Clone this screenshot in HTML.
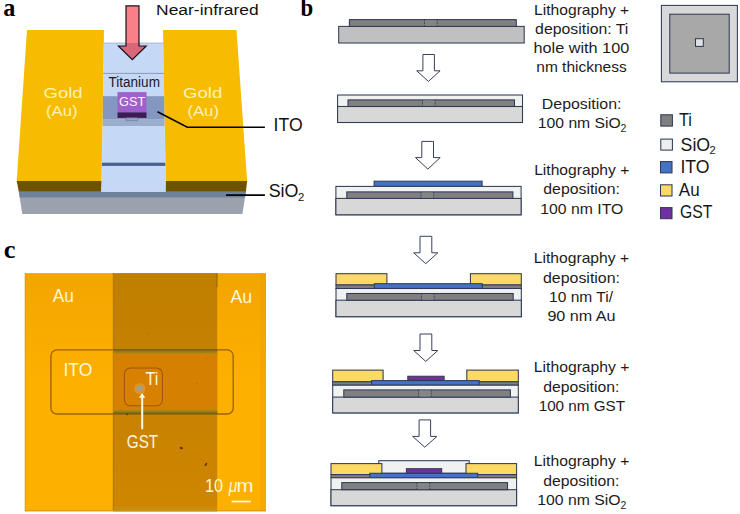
<!DOCTYPE html>
<html><head><meta charset="utf-8">
<style>
html,body{margin:0;padding:0;background:#fff;}
body{width:740px;height:514px;overflow:hidden;position:relative;}
svg{position:absolute;left:0;top:0;}
text{font-family:"Liberation Sans",sans-serif;}
.lbl{font-family:"Liberation Serif",serif;font-weight:bold;}
</style></head>
<body>
<svg width="740" height="514" viewBox="0 0 740 514">
<text x="3.30" y="16" font-size="26.00" fill="#000" textLength="12.10" lengthAdjust="spacingAndGlyphs" class="lbl">a</text>
<text x="300.60" y="16" font-size="26.00" fill="#000" textLength="12.70" lengthAdjust="spacingAndGlyphs" class="lbl">b</text>
<text x="3.70" y="258" font-size="26.00" fill="#000" textLength="11.70" lengthAdjust="spacingAndGlyphs" class="lbl">c</text>
<polygon points="18.8,191.7 245.9,191.7 242.4,213.9 22.3,213.9" fill="#9aa2ae"/>
<polygon points="18.8,191.7 245.9,191.7 245,197.5 19.8,197.5" fill="#6e829e"/>
<polygon points="103.9,43.1 163.3,43.1 165.8,191.8 101.5,191.8" fill="#c5d8f6"/>
<rect x="103" y="42.6" width="61" height="1" fill="#a8b8d0"/>
<rect x="103" y="72.9" width="61" height="1" fill="#8a9ab8"/>
<rect x="102.5" y="96.2" width="62" height="23.3" fill="#8298c0"/>
<rect x="102.5" y="119.5" width="62" height="6.5" fill="#9aaecb"/>
<rect x="102" y="162.7" width="63.5" height="3.2" fill="#4a6090"/>
<polygon points="27,30 104,30 101.5,181 16.7,181" fill="#f7bb00"/>
<polygon points="16.7,181 101.5,181 101.1,191.7 18.8,191.7" fill="#6d5200"/>
<polygon points="163,30 236.5,30 247.1,181 165.8,181" fill="#f7bb00"/>
<polygon points="165.8,181 247.1,181 245.9,191.7 165.8,191.7" fill="#6d5200"/>
<rect x="117.5" y="92.1" width="29" height="20.3" fill="#a060cc"/>
<rect x="117.5" y="112.4" width="29" height="5.5" fill="#3e1a56"/>
<rect x="126.3" y="117.9" width="11.2" height="2.9" fill="#98a8c4" stroke="#6a7a9a" stroke-width="0.7"/>
<text x="119.10" y="106" font-size="12.94" fill="#fff4ff" textLength="26.10" lengthAdjust="spacingAndGlyphs">GST</text>
<text x="108.50" y="87" font-size="14.53" fill="#1a1a28" textLength="51.41" lengthAdjust="spacingAndGlyphs">Titanium</text>
<text x="43.50" y="98" font-size="15.55" fill="#fff2b8" textLength="39.11" lengthAdjust="spacingAndGlyphs">Gold</text>
<text x="46.00" y="116" font-size="14.83" fill="#fff2b8" textLength="31.60" lengthAdjust="spacingAndGlyphs">(Au)</text>
<text x="183.00" y="98" font-size="15.55" fill="#fff2b8" textLength="39.31" lengthAdjust="spacingAndGlyphs">Gold</text>
<text x="187.40" y="116" font-size="14.83" fill="#fff2b8" textLength="31.60" lengthAdjust="spacingAndGlyphs">(Au)</text>
<defs><clipPath id="cTop"><rect x="0" y="0" width="300" height="43.1"/></clipPath><clipPath id="cBot"><rect x="0" y="43.1" width="300" height="30"/></clipPath></defs>
<polygon clip-path="url(#cTop)" points="126,5.9 139,5.9 139,46 146.2,46 132.3,59.7 118.4,46 126,46" fill="#f98088"/>
<polygon clip-path="url(#cBot)" points="126,5.9 139,5.9 139,46 146.2,46 132.3,59.7 118.4,46 126,46" fill="#d86878"/>
<polygon points="126,5.9 139,5.9 139,46 146.2,46 132.3,59.7 118.4,46 126,46" fill="none" stroke="#1a1016" stroke-width="1.2"/>
<text x="156.10" y="15" font-size="15.26" fill="#111" textLength="102.60" lengthAdjust="spacingAndGlyphs">Near-infrared</text>
<polyline points="157.5,111.8 187.3,127.3 264.9,127.3" fill="none" stroke="#000" stroke-width="1.6"/>
<line x1="226" y1="195.1" x2="264.9" y2="195.1" stroke="#000" stroke-width="1.6"/>
<text x="273.60" y="131" font-size="18.60" fill="#111" textLength="29.01" lengthAdjust="spacingAndGlyphs">ITO</text>
<text x="268.70" y="197" font-size="18.90" fill="#111" textLength="29.80" lengthAdjust="spacingAndGlyphs">SiO</text>
<text x="297.90" y="201" font-size="11.19" fill="#111" textLength="6.30" lengthAdjust="spacingAndGlyphs">2</text>
<rect x="338.70" y="26.40" width="185.50" height="16.60" fill="#c0c0c2" stroke="#2f3b55" stroke-width="1.05"/>
<rect x="349.40" y="19.60" width="166.90" height="6.80" fill="#808080" stroke="#2f3b55" stroke-width="1.05"/>
<rect x="424.50" y="20.15" width="12.70" height="5.70" fill="#858585"/><line x1="424.50" y1="19.60" x2="424.50" y2="26.40" stroke="#2e3c55" stroke-width="0.9" stroke-dasharray="1.6,1.1"/><line x1="437.20" y1="19.60" x2="437.20" y2="26.40" stroke="#2e3c55" stroke-width="0.9" stroke-dasharray="1.6,1.1"/>
<polygon points="422.90,54.50 434.40,54.50 434.40,70.80 440.10,70.80 428.40,81.40 416.70,70.80 422.90,70.80" fill="#fff" stroke="#36405a" stroke-width="1"/>
<rect x="337.60" y="95.00" width="184.90" height="27.50" fill="#f0f1f1" stroke="#2f3b55" stroke-width="1.05"/>
<rect x="337.60" y="106.50" width="184.90" height="16.00" fill="#d8d8d8" stroke="#2f3b55" stroke-width="1.05"/>
<rect x="348.00" y="99.90" width="166.50" height="6.60" fill="#808080" stroke="#2f3b55" stroke-width="1.05"/>
<rect x="422.50" y="100.45" width="12.70" height="5.50" fill="#858585"/><line x1="422.50" y1="99.90" x2="422.50" y2="106.50" stroke="#2e3c55" stroke-width="0.9" stroke-dasharray="1.6,1.1"/><line x1="435.20" y1="99.90" x2="435.20" y2="106.50" stroke="#2e3c55" stroke-width="0.9" stroke-dasharray="1.6,1.1"/>
<polygon points="421.80,141.40 433.50,141.40 433.50,157.60 440.20,157.60 427.85,169.10 415.50,157.60 421.80,157.60" fill="#fff" stroke="#36405a" stroke-width="1"/>
<rect x="374.10" y="181.20" width="108.00" height="5.20" fill="#4472c4" stroke="#2f3b55" stroke-width="1.05"/>
<rect x="335.90" y="186.40" width="185.20" height="28.40" fill="#f0f1f1" stroke="#2f3b55" stroke-width="1.05"/>
<rect x="335.90" y="198.40" width="185.20" height="16.40" fill="#d8d8d8" stroke="#2f3b55" stroke-width="1.05"/>
<rect x="346.80" y="191.90" width="166.10" height="6.50" fill="#808080" stroke="#2f3b55" stroke-width="1.05"/>
<rect x="421.00" y="192.45" width="12.70" height="5.40" fill="#858585"/><line x1="421.00" y1="191.90" x2="421.00" y2="198.40" stroke="#2e3c55" stroke-width="0.9" stroke-dasharray="1.6,1.1"/><line x1="433.70" y1="191.90" x2="433.70" y2="198.40" stroke="#2e3c55" stroke-width="0.9" stroke-dasharray="1.6,1.1"/>
<polygon points="420.00,236.30 431.80,236.30 431.80,252.80 437.80,252.80 425.75,263.70 413.70,252.80 420.00,252.80" fill="#fff" stroke="#36405a" stroke-width="1"/>
<rect x="336.00" y="273.70" width="50.90" height="11.30" fill="#fed966" stroke="#2f3b55" stroke-width="1.05"/>
<rect x="470.40" y="273.70" width="50.90" height="11.30" fill="#fed966" stroke="#2f3b55" stroke-width="1.05"/>
<rect x="336.00" y="285.00" width="185.30" height="3.50" fill="#808080" stroke="#2f3b55" stroke-width="1.05"/>
<rect x="374.30" y="283.70" width="108.00" height="4.80" fill="#4472c4" stroke="#2f3b55" stroke-width="1.05"/>
<rect x="336.00" y="288.50" width="185.30" height="28.20" fill="#f0f1f1" stroke="#2f3b55" stroke-width="1.05"/>
<rect x="336.00" y="300.20" width="185.30" height="16.50" fill="#d8d8d8" stroke="#2f3b55" stroke-width="1.05"/>
<rect x="346.80" y="293.50" width="166.40" height="6.70" fill="#808080" stroke="#2f3b55" stroke-width="1.05"/>
<rect x="421.50" y="294.05" width="12.70" height="5.60" fill="#858585"/><line x1="421.50" y1="293.50" x2="421.50" y2="300.20" stroke="#2e3c55" stroke-width="0.9" stroke-dasharray="1.6,1.1"/><line x1="434.20" y1="293.50" x2="434.20" y2="300.20" stroke="#2e3c55" stroke-width="0.9" stroke-dasharray="1.6,1.1"/>
<polygon points="420.00,334.00 431.80,334.00 431.80,350.50 437.80,350.50 425.75,361.40 413.70,350.50 420.00,350.50" fill="#fff" stroke="#36405a" stroke-width="1"/>
<rect x="332.70" y="370.10" width="50.40" height="11.70" fill="#fed966" stroke="#2f3b55" stroke-width="1.05"/>
<rect x="466.80" y="370.10" width="51.50" height="11.70" fill="#fed966" stroke="#2f3b55" stroke-width="1.05"/>
<rect x="332.70" y="381.80" width="185.60" height="3.40" fill="#808080" stroke="#2f3b55" stroke-width="1.05"/>
<rect x="407.80" y="376.25" width="36.30" height="4.35" fill="#7030a0" stroke="#2f3b55" stroke-width="1.05"/>
<rect x="371.60" y="380.60" width="107.60" height="4.60" fill="#4472c4" stroke="#2f3b55" stroke-width="1.05"/>
<rect x="332.70" y="385.20" width="185.60" height="27.70" fill="#f0f1f1" stroke="#2f3b55" stroke-width="1.05"/>
<rect x="332.70" y="397.10" width="185.60" height="15.80" fill="#d8d8d8" stroke="#2f3b55" stroke-width="1.05"/>
<rect x="343.80" y="389.90" width="166.60" height="7.20" fill="#808080" stroke="#2f3b55" stroke-width="1.05"/>
<rect x="418.60" y="390.45" width="12.70" height="6.10" fill="#858585"/><line x1="418.60" y1="389.90" x2="418.60" y2="397.10" stroke="#2e3c55" stroke-width="0.9" stroke-dasharray="1.6,1.1"/><line x1="431.30" y1="389.90" x2="431.30" y2="397.10" stroke="#2e3c55" stroke-width="0.9" stroke-dasharray="1.6,1.1"/>
<polygon points="419.10,419.90 430.60,419.90 430.60,436.40 436.90,436.40 424.75,447.20 412.60,436.40 419.10,436.40" fill="#fff" stroke="#36405a" stroke-width="1"/>
<rect x="378.80" y="460.70" width="90.40" height="12.60" fill="#f0f1f1" stroke="#2f3b55" stroke-width="1.05"/>
<rect x="331.00" y="463.60" width="50.90" height="11.00" fill="#fed966" stroke="#2f3b55" stroke-width="1.05"/>
<rect x="466.00" y="463.60" width="50.60" height="11.00" fill="#fed966" stroke="#2f3b55" stroke-width="1.05"/>
<rect x="331.00" y="474.60" width="185.60" height="3.20" fill="#808080" stroke="#2f3b55" stroke-width="1.05"/>
<rect x="406.40" y="468.70" width="35.30" height="4.60" fill="#7030a0" stroke="#2f3b55" stroke-width="1.05"/>
<rect x="369.80" y="473.30" width="107.90" height="4.50" fill="#4472c4" stroke="#2f3b55" stroke-width="1.05"/>
<rect x="331.00" y="477.80" width="185.60" height="27.90" fill="#f0f1f1" stroke="#2f3b55" stroke-width="1.05"/>
<rect x="331.00" y="489.70" width="185.60" height="16.00" fill="#d8d8d8" stroke="#2f3b55" stroke-width="1.05"/>
<rect x="341.80" y="482.60" width="165.70" height="7.10" fill="#808080" stroke="#2f3b55" stroke-width="1.05"/>
<rect x="417.00" y="483.15" width="12.70" height="6.00" fill="#858585"/><line x1="417.00" y1="482.60" x2="417.00" y2="489.70" stroke="#2e3c55" stroke-width="0.9" stroke-dasharray="1.6,1.1"/><line x1="429.70" y1="482.60" x2="429.70" y2="489.70" stroke="#2e3c55" stroke-width="0.9" stroke-dasharray="1.6,1.1"/>
<rect x="661.40" y="5.40" width="76.00" height="76.40" fill="#d8d8d8" stroke="#2f3b55" stroke-width="1.05"/>
<rect x="669.80" y="14.20" width="59.40" height="58.90" fill="#a8a8a8" stroke="#2f3b55" stroke-width="1.05"/>
<rect x="695.50" y="38.70" width="7.80" height="7.70" fill="#e2e2e2" stroke="#2f3b55" stroke-width="1.05"/>
<rect x="660.80" y="114.80" width="11.60" height="11.30" fill="#808080" stroke="#2f3b55" stroke-width="1.05"/>
<rect x="660.80" y="139.10" width="11.60" height="11.00" fill="#eeeeee" stroke="#2f3b55" stroke-width="1.05"/>
<rect x="660.50" y="161.60" width="11.50" height="11.30" fill="#4472c4" stroke="#2f3b55" stroke-width="1.05"/>
<rect x="660.50" y="184.80" width="11.50" height="11.20" fill="#ffd966" stroke="#2f3b55" stroke-width="1.05"/>
<rect x="660.50" y="207.60" width="11.50" height="11.10" fill="#7030a0" stroke="#2f3b55" stroke-width="1.05"/>
<text x="534.10" y="15" font-size="15.12" fill="#1c1c1c" textLength="95.10" lengthAdjust="spacingAndGlyphs">Lithography +</text>
<text x="535.10" y="34" font-size="15.12" fill="#1c1c1c" textLength="93.29" lengthAdjust="spacingAndGlyphs">deposition: Ti</text>
<text x="533.50" y="53" font-size="15.12" fill="#1c1c1c" textLength="95.70" lengthAdjust="spacingAndGlyphs">hole with 100</text>
<text x="536.30" y="72" font-size="15.12" fill="#1c1c1c" textLength="90.41" lengthAdjust="spacingAndGlyphs">nm thickness</text>
<text x="541.80" y="109" font-size="15.12" fill="#1c1c1c" textLength="79.60" lengthAdjust="spacingAndGlyphs">Deposition:</text>
<text x="534.20" y="175" font-size="15.12" fill="#1c1c1c" textLength="95.10" lengthAdjust="spacingAndGlyphs">Lithography +</text>
<text x="543.30" y="194" font-size="15.12" fill="#1c1c1c" textLength="76.60" lengthAdjust="spacingAndGlyphs">deposition:</text>
<text x="540.30" y="214" font-size="15.12" fill="#1c1c1c" textLength="83.00" lengthAdjust="spacingAndGlyphs">100 nm ITO</text>
<text x="533.80" y="263" font-size="15.12" fill="#1c1c1c" textLength="95.30" lengthAdjust="spacingAndGlyphs">Lithography +</text>
<text x="543.00" y="283" font-size="15.12" fill="#1c1c1c" textLength="77.00" lengthAdjust="spacingAndGlyphs">deposition:</text>
<text x="549.10" y="302" font-size="15.12" fill="#1c1c1c" textLength="63.90" lengthAdjust="spacingAndGlyphs">10 nm Ti/</text>
<text x="547.40" y="321" font-size="15.12" fill="#1c1c1c" textLength="68.20" lengthAdjust="spacingAndGlyphs">90 nm Au</text>
<text x="533.80" y="372" font-size="15.12" fill="#1c1c1c" textLength="95.70" lengthAdjust="spacingAndGlyphs">Lithography +</text>
<text x="543.20" y="392" font-size="15.12" fill="#1c1c1c" textLength="76.20" lengthAdjust="spacingAndGlyphs">deposition:</text>
<text x="538.70" y="411" font-size="15.12" fill="#1c1c1c" textLength="86.30" lengthAdjust="spacingAndGlyphs">100 nm GST</text>
<text x="533.80" y="466" font-size="15.12" fill="#1c1c1c" textLength="95.70" lengthAdjust="spacingAndGlyphs">Lithography +</text>
<text x="543.20" y="486" font-size="15.12" fill="#1c1c1c" textLength="76.20" lengthAdjust="spacingAndGlyphs">deposition:</text>
<text x="537.80" y="128" font-size="15.12" fill="#1c1c1c" textLength="83.00" lengthAdjust="spacingAndGlyphs">100 nm SiO</text>
<text x="620.60" y="132" font-size="11.19" fill="#1c1c1c" textLength="5.80" lengthAdjust="spacingAndGlyphs">2</text>
<text x="537.30" y="505" font-size="15.12" fill="#1c1c1c" textLength="83.30" lengthAdjust="spacingAndGlyphs">100 nm SiO</text>
<text x="620.60" y="509" font-size="11.05" fill="#1c1c1c" textLength="5.80" lengthAdjust="spacingAndGlyphs">2</text>
<text x="679.00" y="126" font-size="17.88" fill="#161616" textLength="12.90" lengthAdjust="spacingAndGlyphs">Ti</text>
<text x="680.60" y="151" font-size="18.31" fill="#161616" textLength="29.60" lengthAdjust="spacingAndGlyphs">SiO</text>
<text x="709.50" y="154" font-size="11.05" fill="#161616" textLength="6.20" lengthAdjust="spacingAndGlyphs">2</text>
<text x="680.40" y="173" font-size="17.88" fill="#161616" textLength="29.11" lengthAdjust="spacingAndGlyphs">ITO</text>
<text x="678.80" y="196" font-size="17.88" fill="#161616" textLength="20.80" lengthAdjust="spacingAndGlyphs">Au</text>
<text x="680.10" y="218" font-size="17.88" fill="#161616" textLength="32.39" lengthAdjust="spacingAndGlyphs">GST</text>
<defs><linearGradient id="gTop" x1="0" y1="0" x2="0" y2="1"><stop offset="0" stop-color="#6a5810"/><stop offset="0.35" stop-color="#8a7a18"/><stop offset="1" stop-color="#c88a10"/></linearGradient><linearGradient id="gBot" x1="0" y1="0" x2="0" y2="1"><stop offset="0" stop-color="#c08a10"/><stop offset="0.6" stop-color="#8a7a18"/><stop offset="1" stop-color="#6a5810"/></linearGradient></defs>
<defs><linearGradient id="gAu" gradientUnits="userSpaceOnUse" x1="0" y1="273" x2="0" y2="511"><stop offset="0" stop-color="#f3a500"/><stop offset="0.45" stop-color="#fdb000"/><stop offset="1" stop-color="#feb000"/></linearGradient><linearGradient id="gMid" gradientUnits="userSpaceOnUse" x1="0" y1="273" x2="0" y2="511"><stop offset="0" stop-color="#c07f00"/><stop offset="1" stop-color="#cf8500"/></linearGradient></defs>
<rect x="24.8" y="273.1" width="241.2" height="238.2" fill="url(#gAu)"/>
<rect x="113.2" y="273.1" width="104" height="238.2" fill="url(#gMid)"/>
<rect x="260" y="273.2" width="6" height="237.8" fill="#e89a00" opacity="0.35"/>
<rect x="112.8" y="273.2" width="1.6" height="237.8" fill="#b87a08"/>
<rect x="216.3" y="273.2" width="1.2" height="14" fill="#9a6a08"/>
<rect x="24.8" y="510.2" width="241.2" height="1.1" fill="#d89010" opacity="0.8"/>
<rect x="24.8" y="273.1" width="1" height="238.2" fill="#e09a00" opacity="0.6"/>
<rect x="50.9" y="349.9" width="182.3" height="64.1" rx="6" fill="none" stroke="#9a6208" stroke-width="1.3"/>
<rect x="113.6" y="350.5" width="103.6" height="63" fill="#d58000"/>
<rect x="113.6" y="349.4" width="103.6" height="4.9" fill="url(#gTop)"/>
<rect x="113.6" y="409.4" width="103.6" height="4.6" fill="url(#gBot)"/>
<rect x="124.4" y="368" width="38" height="37.8" rx="6" fill="#d88000" stroke="#a05608" stroke-width="1.1"/>
<circle cx="139.7" cy="388.6" r="5.6" fill="#e8a040" opacity="0.55"/>
<circle cx="139.7" cy="388.6" r="3.5" fill="#a8a07c"/>
<rect x="141.2" y="396" width="2" height="33.2" fill="#fff8e0"/>
<polygon points="142.1,392.9 138.9,397.8 145.3,397.8" fill="#fff8e0"/>
<rect x="114" y="506.5" width="103" height="4.8" fill="#c49410" opacity="0.6"/>
<ellipse cx="181.3" cy="448.0" rx="1.7" ry="1.1" fill="#5a3208" transform="rotate(20 181.3 448.0)"/>
<ellipse cx="205.9" cy="464.4" rx="0.9" ry="1.9" fill="#5a3208" transform="rotate(35 205.9 464.4)"/>
<ellipse cx="127.3" cy="414.4" rx="1" ry="0.8" fill="#4a3a08" transform="rotate(0 127.3 414.4)"/>
<ellipse cx="147.6" cy="334" rx="0.8" ry="0.8" fill="#a07008" transform="rotate(0 147.6 334)"/>
<ellipse cx="206" cy="358.2" rx="0.8" ry="0.8" fill="#a87808" transform="rotate(0 206 358.2)"/>
<ellipse cx="197.2" cy="383.5" rx="0.8" ry="0.8" fill="#a87808" transform="rotate(0 197.2 383.5)"/>
<text x="52.80" y="302" font-size="17.73" fill="#fff6dc" textLength="21.20" lengthAdjust="spacingAndGlyphs">Au</text>
<text x="230.60" y="303" font-size="17.73" fill="#fff6dc" textLength="21.60" lengthAdjust="spacingAndGlyphs">Au</text>
<text x="63.40" y="376" font-size="17.73" fill="#fff6dc" textLength="28.91" lengthAdjust="spacingAndGlyphs">ITO</text>
<text x="145.60" y="385" font-size="18.31" fill="#fff6dc" textLength="12.80" lengthAdjust="spacingAndGlyphs">Ti</text>
<text x="126.80" y="448" font-size="17.44" fill="#fff6dc" textLength="31.30" lengthAdjust="spacingAndGlyphs">GST</text>
<text x="204.90" y="492" font-size="17.73" fill="#fff6dc" textLength="18.21" lengthAdjust="spacingAndGlyphs">10</text>
<text x="228.73" y="492" font-size="17.73" fill="#fff6dc" textLength="8.57" lengthAdjust="spacingAndGlyphs" font-style="italic">μ</text>
<text x="236.50" y="492" font-size="17.73" fill="#fff6dc" textLength="17.00" lengthAdjust="spacingAndGlyphs">m</text>
<rect x="231.6" y="500.6" width="19.3" height="1.8" fill="#fff6dc"/>
</svg>
</body></html>
